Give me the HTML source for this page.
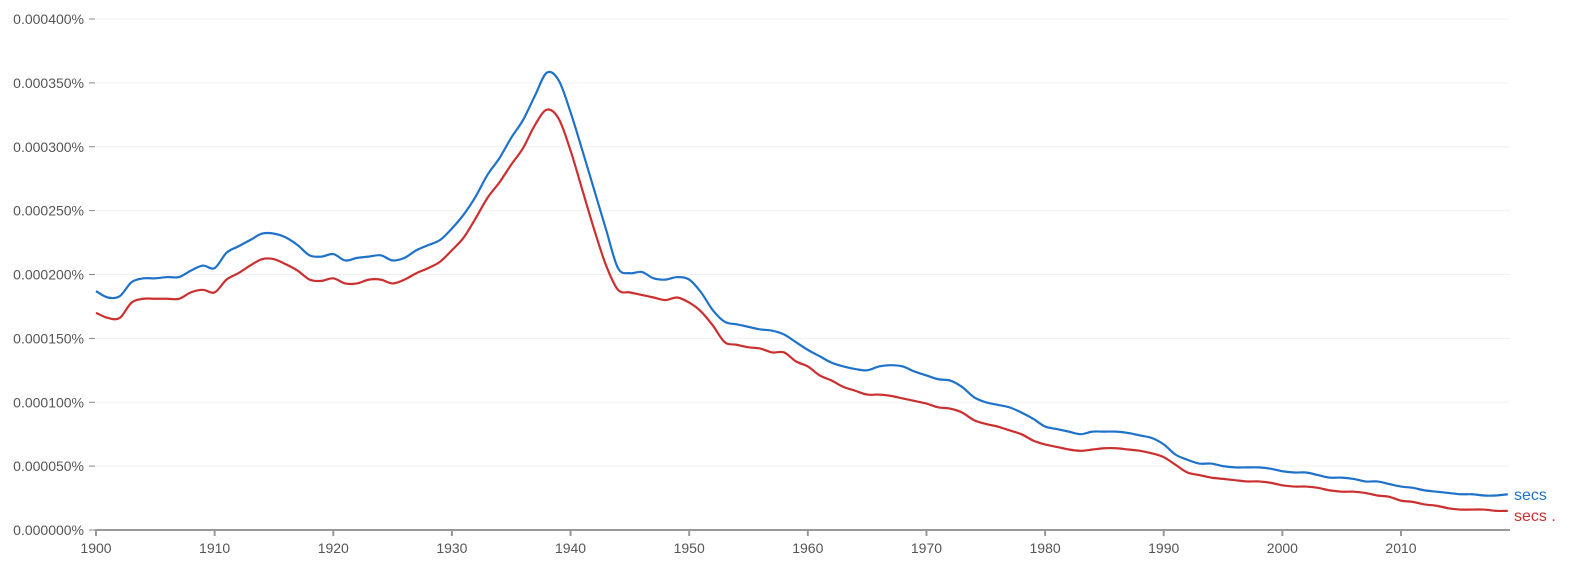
<!DOCTYPE html>
<html><head><meta charset="utf-8"><style>
body{margin:0;background:#fff;}
svg{display:block;font-family:"Liberation Sans",sans-serif;}
</style></head><body>
<svg id="chart" width="1588" height="564" xmlns="http://www.w3.org/2000/svg"></svg>
<script>
const years=[];for(let y=1900;y<=2019;y++)years.push(y);
const secs=[187,182,183,194,197,197,198,198,203,207,205,217,222,227,232,232,229,223,215,214,216,211,213,214,215,211,213,219,223,227,236,247,261,278,291,307,321,340,358,352,327,297,266,235,205,201,202,197,196,198,196,186,172,163,161,159,157,156,153,147,141,136,131,128,126,125,128,129,128,124,121,118,117,112,104,100,98,96,92,87,81,79,77,75,77,77,77,76,74,72,67,59,55,52,52,50,49,49,49,48,46,45,45,43,41,41,40,38,38,36,34,33,31,30,29,28,28,27,27,28];
const secsDot=[170,166,166,178,181,181,181,181,186,188,186,196,201,207,212,212,208,203,196,195,197,193,193,196,196,193,196,201,205,210,219,229,244,260,272,286,299,317,329,322,297,266,235,207,188,186,184,182,180,182,178,171,160,147,145,143,142,139,139,132,128,121,117,112,109,106,106,105,103,101,99,96,95,92,86,83,81,78,75,70,67,65,63,62,63,64,64,63,62,60,57,51,45,43,41,40,39,38,38,37,35,34,34,33,31,30,30,29,27,26,23,22,20,19,17,16,16,16,15,15];
const yTicks=[0,50,100,150,200,250,300,350,400];
const yTickLabels=["0.000000%","0.000050%","0.000100%","0.000150%","0.000200%","0.000250%","0.000300%","0.000350%","0.000400%"];
const xTicks=[1900,1910,1920,1930,1940,1950,1960,1970,1980,1990,2000,2010];
const X=y=>96+(y-1900)*(1401-96)/110;
const Y=v=>530-v*511/400;
const svg=document.getElementById('chart');
const NS="http://www.w3.org/2000/svg";
function mk(t,a,p){const e=document.createElementNS(NS,t);for(const k in a)e.setAttribute(k,a[k]);(p||svg).appendChild(e);return e;}
yTicks.forEach((v,i)=>{
  if(v>0){const g=mk('line',{x1:96,x2:1510,y1:Y(v),y2:Y(v),stroke:'#f0f0f0','stroke-width':1});
  
  }
  const t=mk('line',{x1:89,x2:95,y1:Y(v),y2:Y(v),stroke:'#888','stroke-width':1});
  
  
  const l=mk('text',{x:84,y:Y(v)+5,'text-anchor':'end','font-size':14,fill:'#555'});
  l.textContent=yTickLabels[i];
  
  
});
const ax=mk('line',{x1:95,x2:1510,y1:530,y2:530,stroke:'#999','stroke-width':2});


xTicks.forEach(yr=>{
  const t=mk('line',{x1:X(yr),x2:X(yr),y1:530,y2:536,stroke:'#999','stroke-width':2});
  
  
  const l=mk('text',{x:X(yr),y:553,'text-anchor':'middle','font-size':14,fill:'#555'});
  l.textContent=yr;
  
  
});
function path(vals){
  const p=vals.map((v,i)=>[X(years[i]),Y(v)]);
  let d='M'+p[0][0]+','+p[0][1];
  for(let i=0;i<p.length-1;i++){
    const p0=p[Math.max(i-1,0)],p1=p[i],p2=p[i+1],p3=p[Math.min(i+2,p.length-1)];
    const c1=[p1[0]+(p2[0]-p0[0])/6,p1[1]+(p2[1]-p0[1])/6];
    const c2=[p2[0]-(p3[0]-p1[0])/6,p2[1]-(p3[1]-p1[1])/6];
    d+=`C${c1[0]},${c1[1]} ${c2[0]},${c2[1]} ${p2[0]},${p2[1]}`;
  }
  return d;
}
const s1=mk('path',{d:path(secs),fill:'none',stroke:'#1f72c9','stroke-width':2.2});


const s2=mk('path',{d:path(secsDot),fill:'none',stroke:'#cc2f2f','stroke-width':2.2});


const l1=mk('text',{x:1514,y:Y(secs[secs.length-1])+6,'font-size':16,fill:'#1f72c9'});
l1.textContent='secs';


const l2=mk('text',{x:1514,y:Y(secsDot[secsDot.length-1])+10,'font-size':16,fill:'#cc2f2f'});
l2.textContent='secs .';


</script>
</body></html>
